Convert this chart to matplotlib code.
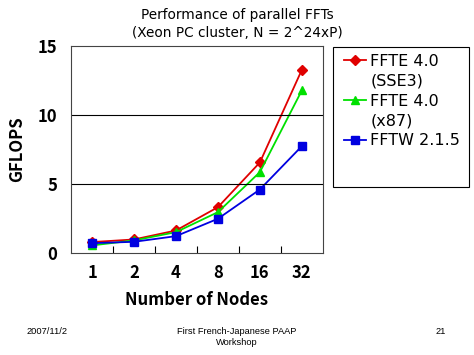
import numpy as np
import matplotlib
matplotlib.use('Agg')
import matplotlib.pyplot as plt
from matplotlib.lines import Line2D
from matplotlib.patches import Rectangle

nodes = ['1', '2', '4', '8', '16', '32']
ffte_sse3 = [0.80, 0.99, 1.64, 3.33, 6.57, 13.28]
ffte_x87 = [0.56, 0.92, 1.52, 2.97, 5.87, 11.79]
fftw = [0.72, 0.82, 1.23, 2.49, 4.61, 7.75]

plt.rcParams['font.family'] = ['Noto Sans CJK JP', 'DejaVu Sans']

fig = plt.figure(figsize=(4.74, 3.55), dpi=100)
ax = fig.add_axes([0.150, 0.287, 0.531, 0.583])

x = np.arange(len(nodes))
l1, = ax.plot(x, ffte_sse3, color='#e00000', marker='D', markersize=5, lw=1.3)
l2, = ax.plot(x, ffte_x87, color='#00e000', marker='^', markersize=6, lw=1.3)
l3, = ax.plot(x, fftw, color='#0000e0', marker='s', markersize=6, lw=1.3)

ax.set_xlim(-0.5, len(nodes) - 0.5)
ax.set_ylim(0, 15)
ax.set_yticks([0, 5, 10, 15])
ax.set_xticks(x)
ax.set_xticklabels(nodes)
ax.set_xticks(x[:-1] + 0.5, minor=True)
ax.tick_params(axis='x', which='major', length=0, pad=8)
ax.tick_params(axis='x', which='minor', direction='in', length=5, width=0.8)
ax.tick_params(axis='y', length=0, pad=10)
for lab in ax.get_xticklabels() + ax.get_yticklabels():
    lab.set_fontsize(12)
    lab.set_fontweight('bold')
for y in [5, 10]:
    ax.axhline(y, color='black', lw=0.8)
for s in ax.spines.values():
    s.set_linewidth(0.8)
    s.set_color('#444444')

ax.set_xlabel('Number of Nodes', fontsize=12, fontweight='bold', labelpad=6)
ax.set_ylabel('GFLOPS', fontsize=12, fontweight='bold', labelpad=8)

fig.text(0.5, 1 - 15 / 355, 'Performance of parallel FFTs', ha='center',
         va='center', fontsize=9.8, family='DejaVu Sans')
fig.text(0.5, 1 - 33 / 355, '(Xeon PC cluster, N = 2^24xP)', ha='center',
         va='center', fontsize=9.8, family='DejaVu Sans')

# legend box
fig.patches.append(Rectangle((333 / 474, 1 - 187 / 355), 136 / 474, 140 / 355,
                             transform=fig.transFigure, facecolor='white',
                             edgecolor='black', lw=0.8, zorder=1))
blank = Line2D([], [], color='none')
leg = fig.legend([l1, blank, l2, blank, l3],
                 ['FFTE 4.0', '(SSE3)', 'FFTE 4.0', '(x87)', 'FFTW 2.1.5'],
                 loc='upper left', bbox_to_anchor=(344 / 474, 1 - 54 / 355),
                 prop={'family': 'DejaVu Sans', 'size': 11.5}, frameon=False,
                 handlelength=1.4, handletextpad=0.25, borderpad=0,
                 labelspacing=0.3, borderaxespad=0)
leg.set_zorder(2)

foot = {'fontsize': 6.7, 'family': 'Liberation Sans', 'va': 'center'}
fig.text(27 / 474, 1 - 332 / 355, '2007/11/2', ha='left', **foot)
fig.text(0.5, 1 - 337 / 355, 'First French-Japanese PAAP\nWorkshop',
         ha='center', multialignment='center', **foot)
fig.text(441 / 474, 1 - 332 / 355, '21', ha='center', **foot)

fig.savefig('out.png', dpi=100)
